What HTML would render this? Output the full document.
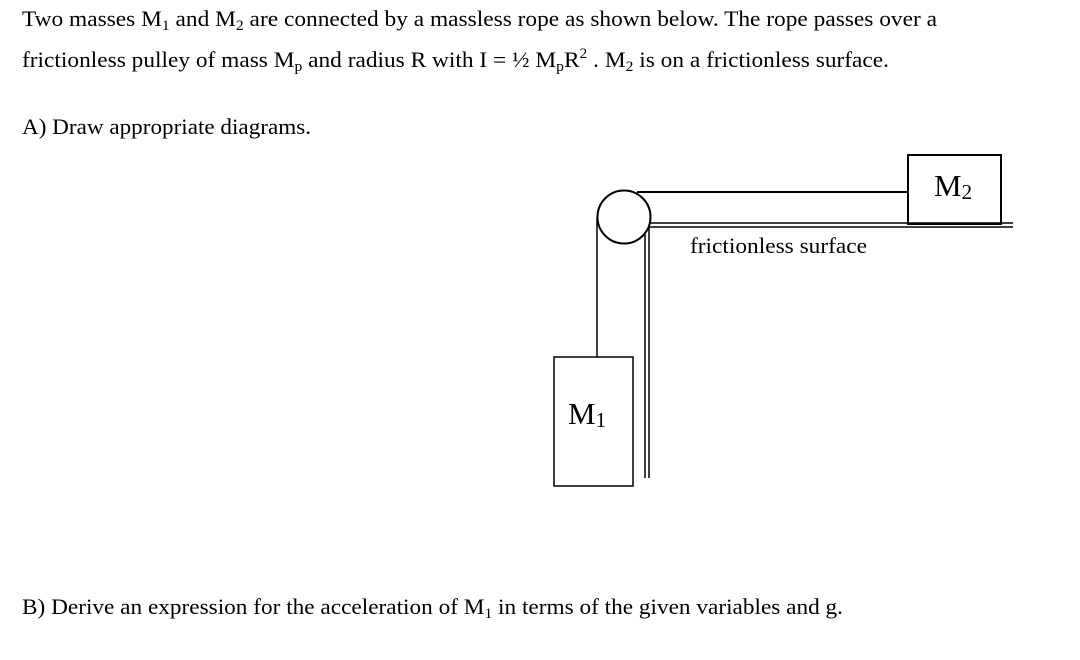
<!DOCTYPE html>
<html><head><meta charset="utf-8"><style>
html,body{margin:0;padding:0;background:#fff;}
svg{display:block;}
text{font-family:"Liberation Serif",serif;fill:#000;}
</style></head><body>
<svg width="1080" height="660" viewBox="0 0 1080 660" xmlns="http://www.w3.org/2000/svg">
<text x="22" y="26" font-size="22.5" textLength="915" lengthAdjust="spacingAndGlyphs">Two masses M<tspan font-size="15" dy="4">1</tspan><tspan dy="-4"> and M</tspan><tspan font-size="15" dy="4">2</tspan><tspan dy="-4"> are connected by a massless rope as shown below. The rope passes over a</tspan></text>
<text x="22" y="67" font-size="22.5" textLength="867" lengthAdjust="spacingAndGlyphs">frictionless pulley of mass M<tspan font-size="15" dy="4">p</tspan><tspan dy="-4"> and radius R with I = ½ M</tspan><tspan font-size="15" dy="4">p</tspan><tspan dy="-4">R</tspan><tspan font-size="15" dy="-9">2</tspan><tspan dy="9"> .  M</tspan><tspan font-size="15" dy="4">2</tspan><tspan dy="-4"> is on a frictionless surface.</tspan></text>
<text x="22" y="134" font-size="22.5" textLength="289" lengthAdjust="spacingAndGlyphs">A) Draw appropriate diagrams.</text>
<text x="22" y="614" font-size="22.5" textLength="821" lengthAdjust="spacingAndGlyphs">B) Derive an expression for the acceleration of M<tspan font-size="15" dy="4">1</tspan><tspan dy="-4"> in terms of the given variables and g.</tspan></text>

<g stroke="#000" fill="none">
<line x1="637" y1="192" x2="908" y2="192" stroke-width="2"/>
<rect x="908" y="155" width="93" height="69" stroke-width="2" fill="#fff"/>
<line x1="649" y1="223" x2="1013" y2="223" stroke-width="1.5"/>
<line x1="649" y1="227" x2="1013" y2="227" stroke-width="1.5"/>
<line x1="645" y1="225" x2="645" y2="478" stroke-width="1.5"/>
<line x1="649" y1="227" x2="649" y2="478" stroke-width="1.5"/>
<line x1="597" y1="217" x2="597" y2="357" stroke-width="1.5"/>
<circle cx="624" cy="217" r="26.5" stroke-width="2" fill="#fff"/>
<rect x="554" y="357" width="79" height="129" stroke-width="1.5" fill="#fff"/>
</g>
<text x="934" y="196" font-size="31">M<tspan font-size="21" dy="3">2</tspan></text>
<text x="568" y="424" font-size="31">M<tspan font-size="21" dy="3">1</tspan></text>
<text x="690" y="253" font-size="22" textLength="177" lengthAdjust="spacingAndGlyphs">frictionless surface</text>
</svg>
</body></html>
